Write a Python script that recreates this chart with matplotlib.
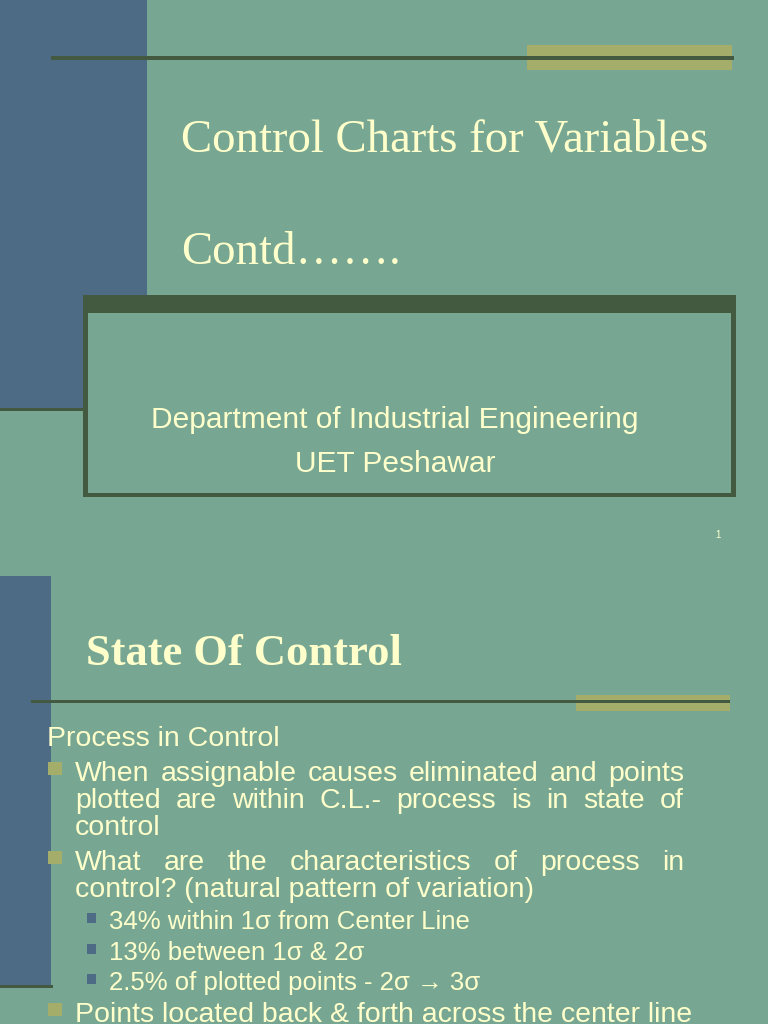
import matplotlib
matplotlib.use("Agg")
import matplotlib.pyplot as plt
from matplotlib.patches import Rectangle

# ── slide text ────────────────────────────────────────────────────────────────
TITLE_1      = "Control Charts for Variables"
TITLE_1B     = "Contd……."
DEPT_LINES   = ["Department of Industrial Engineering", "UET Peshawar"]
PAGE_NO      = "1"
TITLE_2      = "State Of Control"
INTRO        = "Process in Control"
# (text, level, justified)
BODY_LINES = [
    ("When assignable causes eliminated and points", 1, True),
    ("plotted are within C.L.-  process is in state of", 0, True),
    ("control", 0, False),
    ("What are the characteristics of process in", 1, True),
    ("control? (natural pattern of variation)", 0, False),
    ("34% within 1σ from Center Line", 2, False),
    ("13% between 1σ & 2σ", 2, False),
    ("2.5% of plotted points - 2σ → 3σ", 2, False),
    ("Points located back & forth across the center line", 1, False),
]
BODY_BASELINES = [781, 808, 835, 870, 897, 929, 960, 990, 1022]

# ── colours ───────────────────────────────────────────────────────────────────
BG     = "#77a792"
BLUE   = "#4d6b85"
DARK   = "#435a40"
OLIVE  = "#a5ad6b"
CREAM  = "#ffffcc"

SERIF = ["Liberation Serif", "DejaVu Serif"]
SANS  = ["Liberation Sans", "DejaVu Sans"]

fig = plt.figure(figsize=(7.68, 10.24), dpi=100, facecolor=BG)
ax = fig.add_axes([0, 0, 1, 1])
ax.set_xlim(0, 768)
ax.set_ylim(1024, 0)
ax.axis("off")
ax.set_facecolor(BG)


def rect(x0, y0, x1, y1, color, z=1):
    ax.add_patch(Rectangle((x0, y0), x1 - x0, y1 - y0, facecolor=color,
                           edgecolor="none", zorder=z))


# ── slide 1 decoration ────────────────────────────────────────────────────────
rect(0, 0, 147, 408, BLUE)
rect(527, 45, 732, 70, OLIVE, 2)
rect(51, 56, 734, 60, DARK, 3)
rect(0, 408, 84, 411, DARK, 2)
# framed box
rect(83, 295, 736, 497, DARK, 4)
rect(88, 313, 731, 493, BG, 5)

ax.text(181, 151, TITLE_1, family=SERIF, fontsize=33.7, color=CREAM,
        va="baseline", zorder=10)
ax.text(181, 264, TITLE_1B, family=SERIF, fontsize=33.7, color=CREAM,
        va="baseline", zorder=10)
for txt, yb in zip(DEPT_LINES, [428, 472]):
    ax.text(395, yb, txt, family=SANS, fontsize=21.5, color=CREAM,
            ha="center", va="baseline", zorder=10)
ax.text(718, 538, PAGE_NO, family=SANS, fontsize=7, color=CREAM,
        ha="center", va="baseline", zorder=10)

# ── slide 2 decoration ────────────────────────────────────────────────────────
rect(0, 576, 51, 985, BLUE)
rect(0, 985, 53, 988, DARK, 2)
rect(576, 695, 730, 711, OLIVE, 2)
rect(31, 700, 730, 703, DARK, 3)

ax.text(86, 665, TITLE_2, family=SERIF, fontsize=32, fontweight="bold",
        color=CREAM, va="baseline", zorder=10)
ax.text(47, 746, INTRO, family=SANS, fontsize=20.5, color=CREAM,
        va="baseline", zorder=10)

renderer = fig.canvas.get_renderer()


def justify(words, x0, x1, yb, size):
    texts = [ax.text(x0, yb, w, family=SANS, fontsize=size, color=CREAM,
                     va="baseline", zorder=10) for w in words]
    widths = [t.get_window_extent(renderer).width for t in texts]
    gap = (x1 - x0 - sum(widths)) / max(len(words) - 1, 1)
    x = x0
    for t, w in zip(texts, widths):
        t.set_x(x)
        x += w + gap


X_TEXT, X_SUB, X_RIGHT = 75, 109, 684
for (txt, level, just), yb in zip(BODY_LINES, BODY_BASELINES):
    if level == 2:
        rect(87, yb - 16, 96, yb - 6, BLUE, 6)
        ax.text(X_SUB, yb, txt, family=SANS, fontsize=18.5, color=CREAM,
                va="baseline", zorder=10)
        continue
    if level == 1:
        rect(48, yb - 19, 62, yb - 6, OLIVE, 6)
    if just:
        justify(txt.split(), X_TEXT, X_RIGHT, yb, 20.5)
    else:
        ax.text(X_TEXT, yb, txt, family=SANS, fontsize=20.5, color=CREAM,
                va="baseline", zorder=10)

fig.savefig("out.png", dpi=100, facecolor=BG)
